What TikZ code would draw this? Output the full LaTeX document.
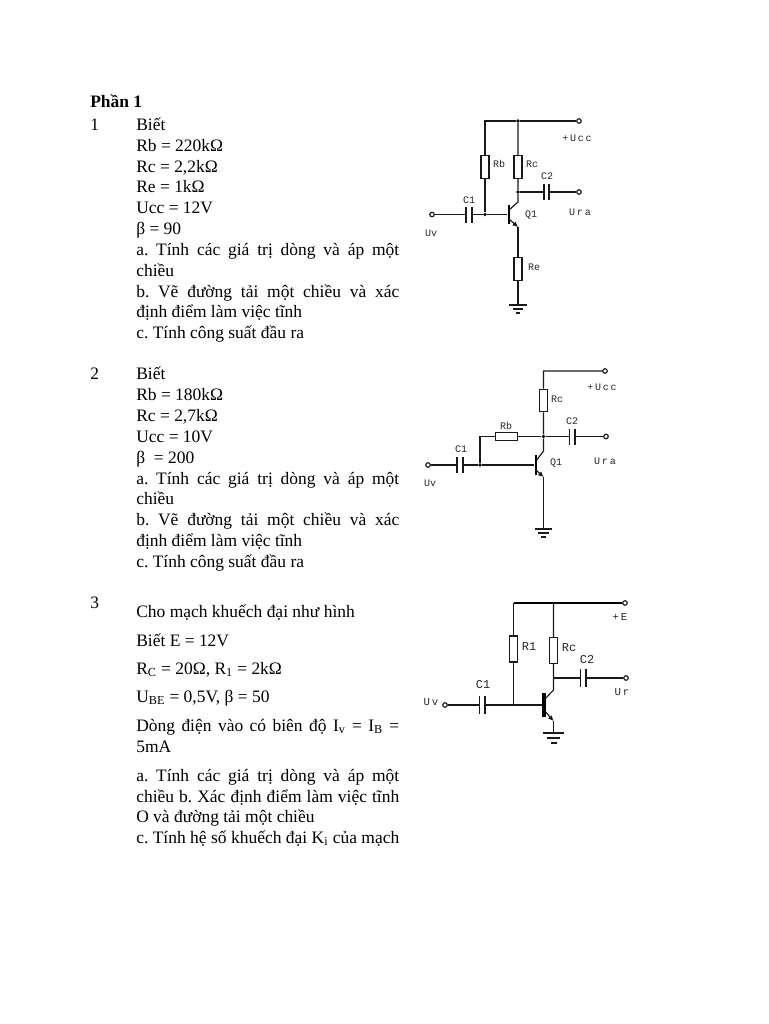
\documentclass[tikz,border=0pt]{standalone}
\usepackage{fontspec}
\setmainfont{Liberation Serif}
\newfontfamily\lblfont{Liberation Mono}
\newfontfamily\lblspfont[LetterSpace=18]{Liberation Mono}
\usetikzlibrary{arrows.meta}
\frenchspacing
\tikzset{
  txt/.style={anchor=base west,inner sep=0pt,font=\fontsize{13.1}{15}\selectfont},
  wire/.style={line width=0.85pt,black!90},
  railwire/.style={line width=1.6pt,black},
  res/.style={draw=black!90,line width=0.85pt,fill=white,inner sep=0pt,minimum width=6pt,minimum height=17pt},
  hres/.style={res,minimum width=17pt,minimum height=5.5pt},
  resbig/.style={res,line width=1.1pt,minimum width=6pt,minimum height=19.5pt},
  term/.style={circle,draw=black!90,line width=0.85pt,fill=white,inner sep=0pt,minimum size=3.4pt},
  dot/.style={circle,fill=black,inner sep=0pt,minimum size=2.8pt},
  plate/.style={fill=black!90,inner sep=0pt,minimum width=0.85pt,minimum height=12pt},
  qbar/.style={fill=black,inner sep=0pt,minimum width=2pt,minimum height=14.5pt},
  gbar/.style={fill=black!90,inner sep=0pt,minimum height=0.85pt},
  emit/.style={wire,-{Latex[length=4pt,width=4pt]}},
  lbl/.style={inner sep=0pt,text=black!85,font=\fontsize{7.5}{9}\lblfont},
  lblsp/.style={inner sep=0pt,text=black!85,font=\fontsize{7.5}{9}\lblspfont},
  lblb/.style={inner sep=0pt,text=black!85,font=\fontsize{9}{11}\lblfont},
  lblbsp/.style={inner sep=0pt,text=black!85,font=\fontsize{8}{10}\lblspfont},
}
\newcommand{\just}[1]{\makebox[197.25pt][s]{#1}}
\begin{document}
\begin{tikzpicture}[x=0.75pt,y=-0.75pt]
\useasboundingbox[fill=white] (0,0) rectangle (768,1024);
% ---- text, part 1
\node[txt,font=\fontsize{13.1}{15}\selectfont\bfseries] (h) at (90,108) {Phần 1};
\node[txt] (n1) at (90,130) {1};
\node[txt] (a1) at (136,130) {Biết};
\node[txt] (a2) at (136,151) {Rb = 220kΩ};
\node[txt] (a3) at (136,172) {Rc = 2,2kΩ};
\node[txt] (a4) at (136,192) {Re = 1kΩ};
\node[txt] (a5) at (136,213) {Ucc = 12V};
\node[txt] (a6) at (136,234) {β = 90};
\node[txt] (a7) at (136,255) {\just{a. Tính các giá trị dòng và áp một}};
\node[txt] (a8) at (136,276) {chiều};
\node[txt] (a9) at (136,297) {\just{b. Vẽ đường tải một chiều và xác}};
\node[txt] (a10) at (136,317) {định điểm làm việc tĩnh};
\node[txt] (a11) at (136,338) {c. Tính công suất đầu ra};
% ---- text, part 2
\node[txt] (n2) at (90,379) {2};
\node[txt] (b1) at (136,379) {Biết};
\node[txt] (b2) at (136,400) {Rb = 180kΩ};
\node[txt] (b3) at (136,421) {Rc = 2,7kΩ};
\node[txt] (b4) at (136,442) {Ucc = 10V};
\node[txt] (b5) at (136,463) {β~ = 200};
\node[txt] (b6) at (136,484) {\just{a. Tính các giá trị dòng và áp một}};
\node[txt] (b7) at (136,504) {chiều};
\node[txt] (b8) at (136,525) {\just{b. Vẽ đường tải một chiều và xác}};
\node[txt] (b9) at (136,546) {định điểm làm việc tĩnh};
\node[txt] (b10) at (136,567) {c. Tính công suất đầu ra};
% ---- text, part 3
\node[txt] (n3) at (90,608) {3};
\node[txt] (c1) at (136,617) {Cho mạch khuếch đại như hình};
\node[txt] (c2) at (136,646) {Biết E = 12V};
\node[txt] (c3) at (136,674) {R\textsubscript{C} = 20Ω, R\textsubscript{1} = 2kΩ};
\node[txt] (c4) at (136,702) {U\textsubscript{BE} = 0,5V, β = 50};
\node[txt] (c5) at (136,731) {\just{Dòng điện vào có biên độ I\textsubscript{v} = I\textsubscript{B} =}};
\node[txt] (c6) at (136,752) {5mA};
\node[txt] (c7) at (136,781) {\just{a. Tính các giá trị dòng và áp một}};
\node[txt] (c8) at (136,802) {\just{chiều b. Xác định điểm làm việc tĩnh}};
\node[txt] (c9) at (136,822) {O và đường tải một chiều};
\node[txt] (c10) at (136,843) {\just{c. Tính hệ số khuếch đại K\textsubscript{i} của mạch}};
% ---- circuit 1
\coordinate (A1) at (485,121);
\node[dot] (A2) at (518,121) {};
\node[term] (A3) at (579,121) {};
\node[res] (Arb) at (485,167) {};
\node[res] (Arc) at (518,167) {};
\node[dot] (A4) at (518,192) {};
\node[plate] (Ac2a) at (544,192) {};
\node[plate] (Ac2b) at (549,192) {};
\node[term] (A5) at (579,192) {};
\node[term] (A6) at (432,214.5) {};
\node[plate] (Ac1a) at (466,214.5) {};
\node[plate] (Ac1b) at (472,214.5) {};
\node[dot] (A7) at (485,214.5) {};
\node[qbar] (Aq) at (509,214.5) {};
\coordinate (Aqc) at (509,210);
\coordinate (Aqe) at (509,219);
\coordinate (A8) at (518,202);
\coordinate (A9) at (518,227);
\node[res] (Are) at (518,269) {};
\node[gbar,minimum width=13pt] (Ag1) at (518,305) {};
\node[gbar,minimum width=8pt] (Ag2) at (518,309) {};
\node[gbar,minimum width=3.5pt] (Ag3) at (518,313) {};
\draw[wire] (Arb) -- (A1) -- (A2) -- (A3);
\draw[wire] (A2) -- (Arc) -- (A4) -- (A8) -- (Aqc);
\draw[wire] (A4) -- (Ac2a) (Ac2b) -- (A5);
\draw[wire] (A6) -- (Ac1a) (Ac1b) -- (A7) -- (Aq);
\draw[wire] (A7) -- (Arb);
\draw[emit] (Aqe) -- (A9);
\draw[wire] (A9) -- (Are) -- (Ag1);
\node[lbl] (Al1) at (469,200) {C1};
\node[lbl] (Al2) at (499,164) {Rb};
\node[lbl] (Al3) at (532,164) {Rc};
\node[lbl] (Al4) at (547,176) {C2};
\node[lblsp] (Al5) at (577,138) {+Ucc};
\node[lblsp] (Al6) at (580,212) {Ura};
\node[lbl] (Al7) at (531,215) {Q1};
\node[lbl] (Al8) at (431,233) {Uv};
\node[lbl] (Al9) at (534,267) {Re};
% ---- circuit 2
\node[term] (B1) at (605,371) {};
\coordinate (B2) at (543.5,371);
\node[res] (Brc) at (543.5,400.5) {};
\node[dot] (B3) at (543.5,436.5) {};
\node[plate] (Bc2a) at (569.5,436.5) {};
\node[plate] (Bc2b) at (575,436.5) {};
\node[term] (B4) at (606,436.5) {};
\node[hres] (Brb) at (506.5,436.5) {};
\coordinate (B5) at (480,436.5);
\node[dot] (B6) at (480,465) {};
\node[term] (B7) at (428,465) {};
\node[plate] (Bc1a) at (457,465) {};
\node[plate] (Bc1b) at (463,465) {};
\node[qbar] (Bq) at (536,465) {};
\coordinate (Bqc) at (536,461);
\coordinate (Bqe) at (536,470);
\coordinate (B8) at (543.5,451);
\coordinate (B9) at (543.5,477);
\node[gbar,minimum width=13pt] (Bg1) at (543.5,529) {};
\node[gbar,minimum width=8pt] (Bg2) at (543.5,533) {};
\node[gbar,minimum width=3.5pt] (Bg3) at (543.5,537) {};
\draw[wire] (B1) -- (B2) -- (Brc) -- (B3) -- (B8) -- (Bqc);
\draw[wire] (B3) -- (Bc2a) (Bc2b) -- (B4);
\draw[wire] (B3) -- (Brb) -- (B5) -- (B6);
\draw[wire] (B7) -- (Bc1a) (Bc1b) -- (B6) -- (Bq);
\draw[emit] (Bqe) -- (B9);
\draw[wire] (B9) -- (Bg1);
\node[lbl] (Bl1) at (557,399) {Rc};
\node[lbl] (Bl2) at (506,426) {Rb};
\node[lbl] (Bl3) at (572,421) {C2};
\node[lblsp] (Bl4) at (602,387) {+Ucc};
\node[lblsp] (Bl5) at (605,461) {Ura};
\node[lbl] (Bl6) at (556,463) {Q1};
\node[lbl] (Bl7) at (461,449) {C1};
\node[lbl] (Bl8) at (430,483) {Uv};
% ---- circuit 3
\coordinate (C1) at (513.5,603);
\coordinate (C2) at (553.5,603);
\node[term] (C3) at (625,603) {};
\node[resbig] (Cr1) at (513.5,649) {};
\node[resbig] (Crc) at (553.5,650.5) {};
\coordinate (C4) at (553.5,678);
\node[plate,minimum height=13.5pt] (Cc2a) at (580.5,678) {};
\node[plate,minimum height=13.5pt] (Cc2b) at (586,678) {};
\node[term] (C5) at (626,678) {};
\node[term] (C6) at (445,705) {};
\node[plate,minimum height=13.5pt] (Cc1a) at (479.5,705) {};
\node[plate,minimum height=13.5pt] (Cc1b) at (485,705) {};
\coordinate (C7) at (513.5,705);
\node[qbar,minimum height=18pt,minimum width=2.4pt] (Cq) at (544,705) {};
\coordinate (Cqc) at (544,700);
\coordinate (Cqe) at (544,710);
\coordinate (C8) at (553.5,690);
\coordinate (C9) at (553.5,721);
\node[gbar,minimum width=15.5pt] (Cg1) at (553.5,733) {};
\node[gbar,minimum width=10pt] (Cg2) at (553.5,738) {};
\node[gbar,minimum width=4.5pt] (Cg3) at (553.5,743) {};
\draw[railwire] (C1) -- (C2) -- (C3);
\draw[wire] (C1) -- (Cr1) -- (C7);
\draw[wire] (C2) -- (Crc) -- (C4) -- (C8) -- (Cqc);
\draw[wire] (C4) -- (Cc2a) (Cc2b) -- (C5);
\draw[wire] (C6) -- (Cc1a) (Cc1b) -- (C7) -- (Cq);
\draw[emit] (Cqe) -- (C9);
\draw[wire] (C9) -- (Cg1);
\node[lblbsp] (Cl1) at (620,617) {+E};
\node[lblb] (Cl2) at (529,647) {R1};
\node[lblb] (Cl3) at (569,648) {Rc};
\node[lblb] (Cl4) at (587,660) {C2};
\node[lblbsp] (Cl5) at (622,692) {Ur};
\node[lblb] (Cl6) at (483,685) {C1};
\node[lblbsp] (Cl7) at (431,702) {Uv};
\end{tikzpicture}
\end{document}
